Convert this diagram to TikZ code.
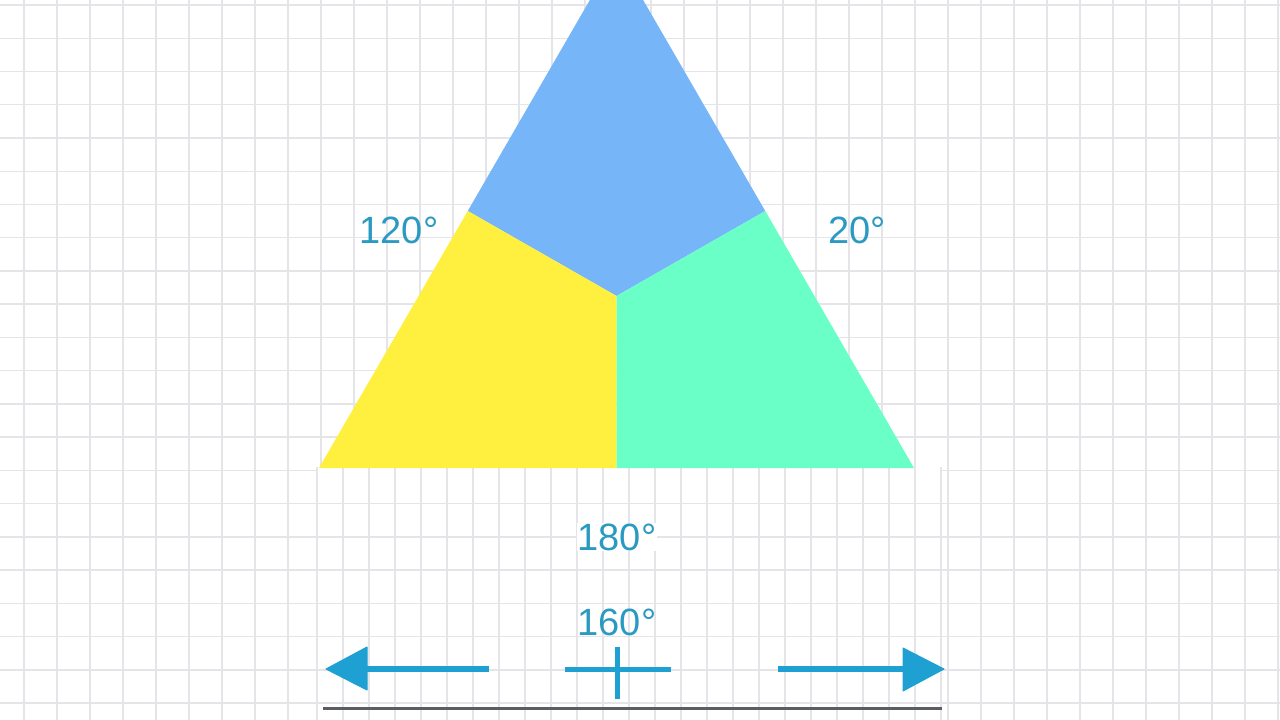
\documentclass[tikz,border=0pt]{standalone}
\usepackage{fontspec}
\setmainfont{Liberation Sans}
\usetikzlibrary{calc}
\definecolor{gridc}{HTML}{E5E5E9}
\definecolor{blueR}{HTML}{75B5F8}
\definecolor{yellowR}{HTML}{FFF03F}
\definecolor{greenR}{HTML}{6BFFC8}
\definecolor{labc}{HTML}{2A9AC2}
\definecolor{arrc}{HTML}{1FA0D3}
\definecolor{basec}{HTML}{5A5E62}
\tikzset{
  gridline/.style={draw=gridc, line width=1.4pt},
  anglabel/.style={text=labc, font=\fontsize{38}{40}\selectfont, inner sep=1pt},
  shaft/.style={draw=arrc, line width=6pt},
  headtri/.style={fill=arrc, draw=arrc, line width=1pt, line join=round},
  crossbar/.style={draw=arrc, line width=5pt},
}
\begin{document}
\begin{tikzpicture}[x=1pt,y=-1pt]
\useasboundingbox (0,0) rectangle (1280,720);
\fill[white] (0,0) rectangle (1280,720);
% main grid
\foreach \k in {0,...,38} { \draw[gridline] ({24+33*\k},0) -- ({24+33*\k},720); }
\foreach \k in {0,...,21} { \draw[gridline] (0,{5+33.24*\k}) -- (1280,{5+33.24*\k}); }
% finer region under the triangle
\fill[white] (317,467) rectangle (942,720);
\foreach \k in {0,...,24} { \draw[gridline] ({317+26*\k},467) -- ({317+26*\k},720); }
\foreach \k in {15,...,21} { \draw[gridline] (317,{5+33.24*\k}) -- (942,{5+33.24*\k}); }
% triangle
\coordinate (A) at (616.5,-46);
\coordinate (L) at (319,468);
\coordinate (R) at (914,468);
\coordinate (G) at (616.5,296);
\coordinate (ML) at ($(A)!0.5!(L)$);
\coordinate (MR) at ($(A)!0.5!(R)$);
\coordinate (MB) at ($(L)!0.5!(R)$);
\fill[blueR] (A) -- (MR) -- (G) -- (ML) -- cycle;
\fill[yellowR] (ML) -- (G) -- (MB) -- (L) -- cycle;
\fill[greenR] (MR) -- (R) -- (MB) -- (G) -- cycle;
% labels
\node[anglabel] (l120) at (399,230) {120°};
\node[anglabel] (l20) at (857,230) {20°};
\node[anglabel, fill=white] (l180) at (617,537) {180°};
\node[anglabel] (l160) at (617,622) {160°};
% arrows
\coordinate (lt) at (326,669);
\coordinate (lb1) at (367,647);
\coordinate (lb2) at (367,690);
\coordinate (ls0) at (365,669);
\coordinate (ls1) at (489,669);
\draw[shaft] (ls0) -- (ls1);
\filldraw[headtri] (lt) -- (lb1) -- (lb2) -- cycle;
\coordinate (rt) at (944,669);
\coordinate (rb1) at (903,648);
\coordinate (rb2) at (903,691);
\coordinate (rs0) at (778,669);
\coordinate (rs1) at (905,669);
\draw[shaft] (rs0) -- (rs1);
\filldraw[headtri] (rt) -- (rb1) -- (rb2) -- cycle;
% plus
\coordinate (ph0) at (565,669);
\coordinate (ph1) at (671,669);
\coordinate (pv0) at (617,647);
\coordinate (pv1) at (617,699);
\draw[crossbar] (ph0) -- (ph1);
\draw[crossbar] (pv0) -- (pv1);
% base line
\coordinate (b0) at (323,708);
\coordinate (b1) at (942,708);
\draw[draw=basec, line width=3pt] (b0) -- (b1);
\end{tikzpicture}
\end{document}
